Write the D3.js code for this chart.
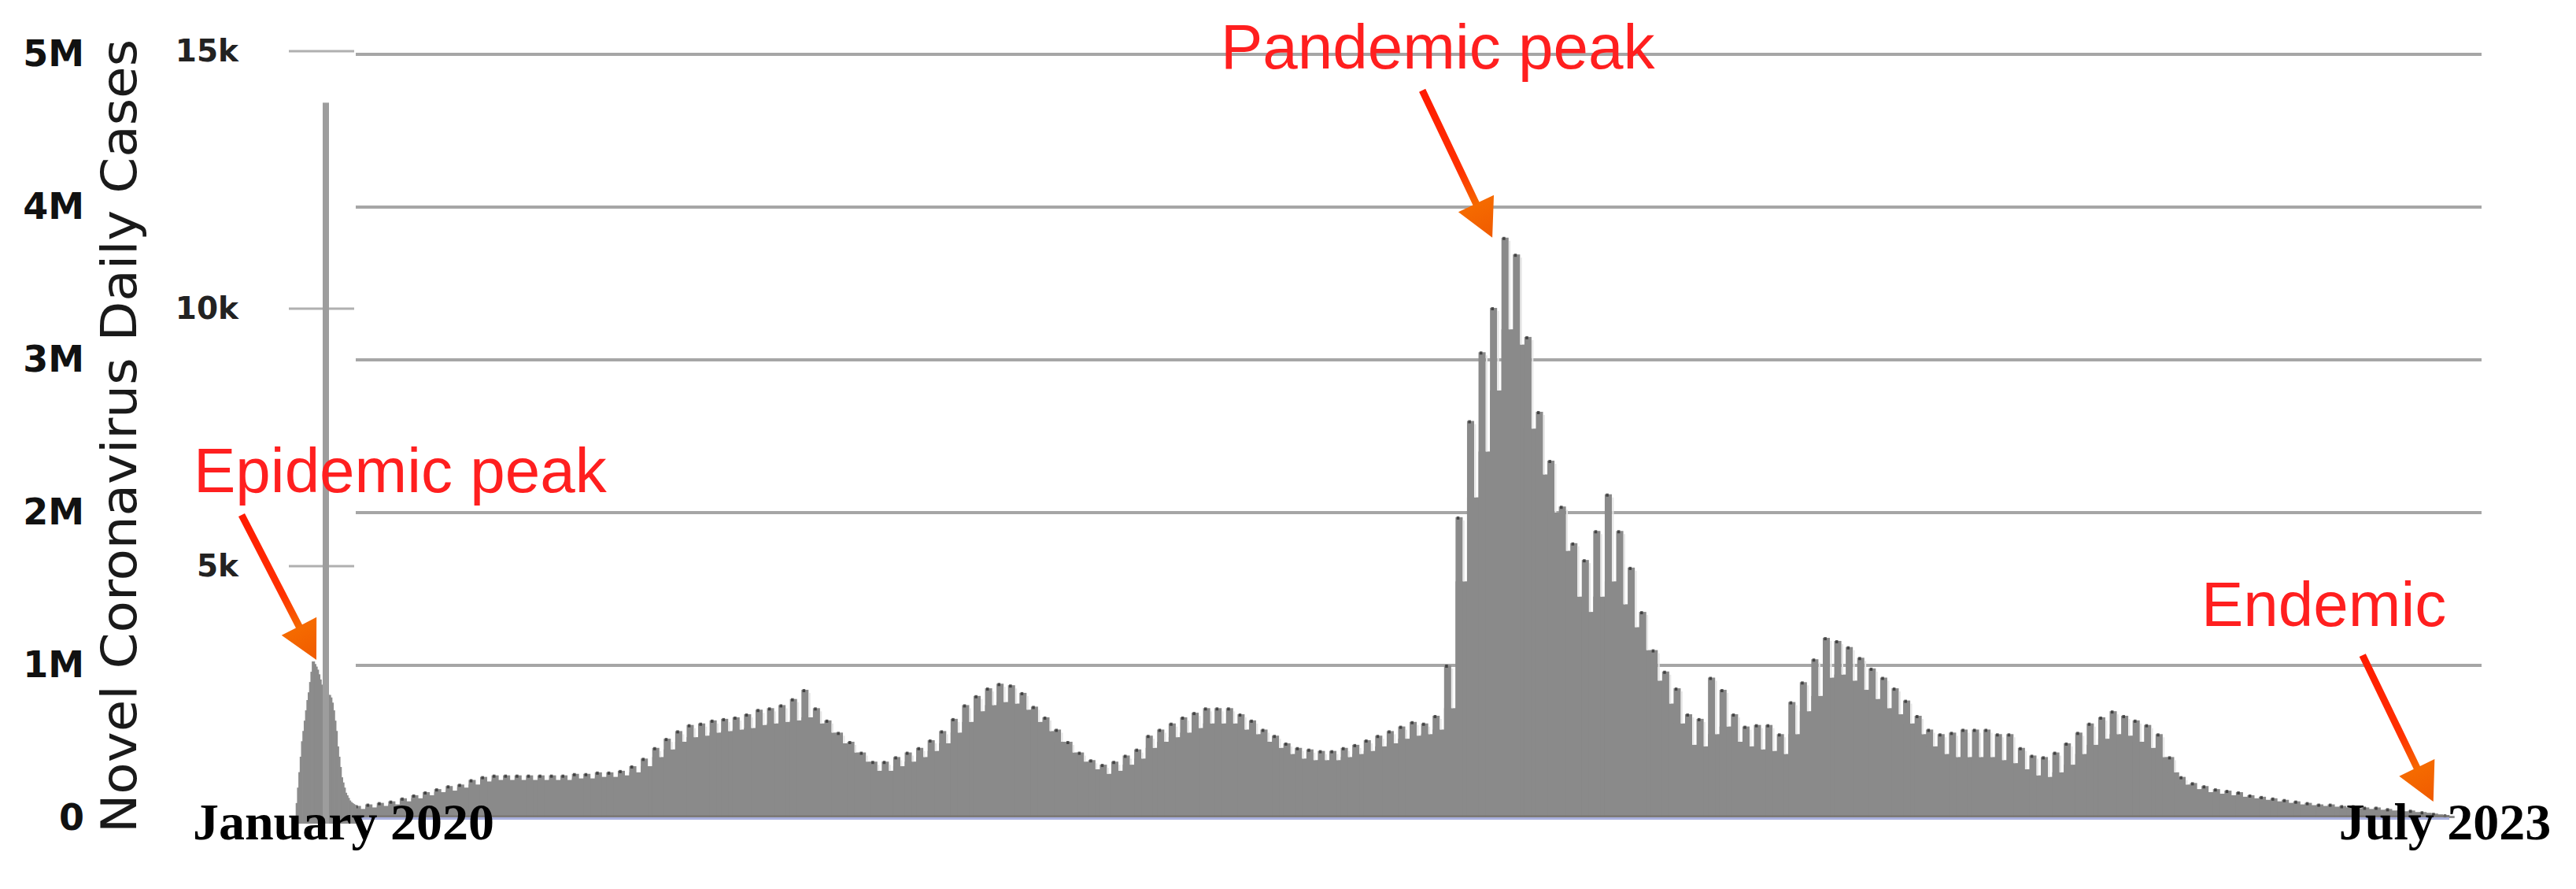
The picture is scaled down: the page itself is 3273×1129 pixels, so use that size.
<!DOCTYPE html>
<html><head><meta charset="utf-8">
<script src="https://cdn.jsdelivr.net/npm/d3@7"></script>
<style>body{margin:0;background:#fff}svg{display:block}</style>
</head><body>
<script>
// ---------------- DATA ----------------
// Global daily cases (millions): weekly high (peak day) and weekly low (trough day), weeks from 2020-01-01
const globalWeekStart = "2020-01-01";
const weeklyHigh = [
0.08,0.09,0.10,0.11,0.13,0.15,0.17,0.19,0.21,0.22,
0.25,0.27,0.28,0.28,0.28,0.28,0.28,0.28,0.28,0.29,
0.29,0.30,0.30,0.31,0.34,0.39,0.46,0.52,0.57,0.61,
0.62,0.64,0.65,0.66,0.68,0.71,0.72,0.74,0.78,0.84,
0.72,0.64,0.56,0.50,0.43,0.37,0.37,0.40,0.43,0.46,
0.51,0.57,0.65,0.74,0.80,0.85,0.88,0.87,0.82,0.73,
0.66,0.58,0.50,0.43,0.38,0.35,0.37,0.41,0.45,0.54,
0.58,0.62,0.66,0.69,0.72,0.72,0.72,0.68,0.64,0.58,
0.54,0.49,0.46,0.45,0.44,0.44,0.46,0.48,0.51,0.54,
0.57,0.60,0.63,0.62,0.67,1.00,1.97,2.60,3.05,3.34,
3.80,3.69,3.15,2.66,2.34,2.04,1.80,1.69,1.88,2.12,
1.88,1.64,1.35,1.10,0.96,0.85,0.68,0.65,0.92,0.84,
0.68,0.60,0.61,0.61,0.55,0.76,0.89,1.04,1.18,1.16,
1.12,1.05,0.98,0.92,0.85,0.77,0.67,0.58,0.55,0.56,
0.58,0.58,0.58,0.55,0.55,0.46,0.41,0.40,0.43,0.49,
0.56,0.62,0.66,0.70,0.67,0.64,0.61,0.55,0.40,0.27,
0.23,0.21,0.19,0.18,0.17,0.15,0.14,0.13,0.12,0.11,
0.10,0.09,0.09,0.08,0.08,0.07,0.07,0.06,0.05,0.05,
0.04,0.03,0.02];
const weeklyLow = [
0.06,0.07,0.08,0.09,0.11,0.13,0.15,0.17,0.18,0.20,
0.22,0.24,0.25,0.25,0.25,0.25,0.25,0.25,0.25,0.26,
0.26,0.27,0.27,0.28,0.30,0.34,0.40,0.45,0.50,0.53,
0.54,0.56,0.57,0.58,0.59,0.61,0.62,0.63,0.64,0.66,
0.62,0.56,0.49,0.43,0.37,0.31,0.31,0.34,0.37,0.40,
0.44,0.49,0.56,0.63,0.70,0.74,0.76,0.75,0.71,0.63,
0.57,0.50,0.43,0.37,0.32,0.29,0.31,0.35,0.39,0.46,
0.50,0.53,0.56,0.59,0.62,0.62,0.62,0.58,0.55,0.50,
0.46,0.42,0.39,0.38,0.38,0.38,0.40,0.42,0.44,0.47,
0.49,0.52,0.54,0.55,0.58,0.72,1.55,2.10,2.40,2.80,
3.20,3.10,2.55,2.25,2.00,1.75,1.45,1.35,1.45,1.55,
1.40,1.25,1.10,0.90,0.75,0.62,0.48,0.47,0.55,0.60,
0.50,0.47,0.45,0.44,0.42,0.55,0.70,0.80,0.92,0.94,
0.90,0.84,0.78,0.72,0.68,0.62,0.55,0.47,0.42,0.40,
0.40,0.40,0.40,0.38,0.36,0.32,0.28,0.27,0.30,0.35,
0.42,0.48,0.52,0.55,0.54,0.50,0.46,0.40,0.30,0.22,
0.19,0.17,0.16,0.15,0.14,0.13,0.12,0.11,0.10,0.09,
0.085,0.08,0.075,0.07,0.065,0.06,0.055,0.05,0.045,0.04,
0.035,0.025,0.015];
// Early epidemic (inset, China) daily cases from 2020-01-20
const chinaStart = "2020-01-20";
const chinaDaily = [100,400,700,1000,1300,1600,1800,2000,2200,2400,
2550,2750,2950,3150,3150,3100,3050,2990,2900,2800,
2700,2650,2600,14000,2550,2500,2500,2450,2350,2200,
2000,1800,1500,1300,1100,900,800,700,600,550,
500,450,420,400,380,350];
// axes
const outerTicks = [0,1,2,3,4,5];
const outerTickLabels = ["0","1M","2M","3M","4M","5M"];
const innerTicks = [5000,10000,15000];
const innerTickLabels = ["5k","10k","15k"];
const xTickDates = ["2020-01-01","2023-07-01"];
const xTickLabels = ["January 2020","July 2023"];
const yTitle = "Novel Coronavirus Daily Cases";
const annotationTexts = ["Epidemic peak","Pandemic peak","Endemic"];

// ---------------- CHART ----------------
const W = 3273, H = 1129;
const parse = d3.utcParse("%Y-%m-%d");
const svg = d3.select("body").append("svg").attr("width", W).attr("height", H);

const x = d3.scaleUtc().domain([parse("2020-01-01"), parse("2023-07-01")]).range([450, 3110]);
const yOuter = d3.scaleLinear().domain([0, 5]).range([1039, 69]);
const yInner = d3.scaleLinear().domain([0, 15000]).range([1046, 65]);
const c0 = parse(chinaStart);
const xChina = d3.scaleUtc().domain([c0, d3.utcDay.offset(c0, 47)]).range([374, 454]);

// gridlines
svg.append("g").selectAll("line").data(outerTicks.filter(d => d > 0)).join("line")
  .attr("x1", 452).attr("x2", 3153)
  .attr("y1", d => yOuter(d)).attr("y2", d => yOuter(d))
  .attr("stroke", "#a6a6a6").attr("stroke-width", 4);
svg.append("g").selectAll("line").data(innerTicks).join("line")
  .attr("x1", 367).attr("x2", 450)
  .attr("y1", d => yInner(d)).attr("y2", d => yInner(d))
  .attr("stroke", "#b0b0b0").attr("stroke-width", 3);

// global weekly bars
const gs = parse(globalWeekStart);
const weeks = weeklyHigh.map((h, i) => ({ d: d3.utcDay.offset(gs, 7 * i), hi: h, lo: weeklyLow[i] }));
const gArea = svg.append("g");
const base0 = yOuter(0);
gArea.selectAll("rect.lo").data(weeks).join("rect").attr("class", "lo")
  .attr("x", w => x(w.d) - 0.4)
  .attr("width", w => x(d3.utcDay.offset(w.d, 7)) - x(w.d) + 0.8)
  .attr("y", w => yOuter(w.lo)).attr("height", w => base0 - yOuter(w.lo))
  .attr("fill", "#8a8a8a");
gArea.selectAll("rect.hi").data(weeks).join("rect").attr("class", "hi")
  .attr("x", w => x(w.d) - 0.4)
  .attr("width", w => (x(d3.utcDay.offset(w.d, 7)) - x(w.d)) * 0.62)
  .attr("y", w => yOuter(w.hi)).attr("height", w => base0 - yOuter(w.hi))
  .attr("fill", "#8a8a8a");
gArea.selectAll("rect.cap").data(weeks).join("rect").attr("class", "cap")
  .attr("x", w => x(w.d) + 1)
  .attr("width", 3.5)
  .attr("y", w => yOuter(w.hi) - 1).attr("height", 4)
  .attr("fill", "#2a2a2a").attr("opacity", 0.75);
// notch highlight
gArea.selectAll("rect.notch").data(weeks.filter(w => w.hi - w.lo > 0.05)).join("rect").attr("class", "notch")
  .attr("x", w => x(w.d) + (x(d3.utcDay.offset(w.d, 7)) - x(w.d)) * 0.62)
  .attr("width", 2)
  .attr("y", w => yOuter(w.hi) + 4).attr("height", w => Math.max(0, yOuter(w.lo) - yOuter(w.hi) - 4))
  .attr("fill", "#e6e6e6");

// baseline
svg.append("line").attr("x1", 450).attr("x2", 3112).attr("y1", 1036.5).attr("y2", 1036.5)
  .attr("stroke", "#787470").attr("stroke-width", 2);
svg.append("line").attr("x1", 450).attr("x2", 3112).attr("y1", 1039.5).attr("y2", 1039.5)
  .attr("stroke", "#a9b0de").attr("stroke-width", 3);

// inset (China) daily bars
const days = chinaDaily.map((v, i) => ({ d: d3.utcDay.offset(c0, i), v }));
const maxV = d3.max(chinaDaily);
const step = xChina(d3.utcDay.offset(c0, 1)) - xChina(c0);
svg.append("g").selectAll("rect").data(days.filter(e => e.v !== maxV)).join("rect")
  .attr("x", e => xChina(e.d)).attr("width", step + 0.7)
  .attr("y", e => yInner(e.v)).attr("height", e => yInner(0) - yInner(e.v))
  .attr("fill", "#8b8b8b");
svg.append("g").selectAll("rect").data(days.filter(e => e.v === maxV)).join("rect")
  .attr("x", e => xChina(e.d) + step / 2 - 4).attr("width", 8)
  .attr("y", e => yInner(e.v)).attr("height", e => yInner(0) - yInner(e.v))
  .attr("fill", "#9d9d9d");

// axes
const axOuter = svg.append("g").attr("transform", "translate(107,0)")
  .call(d3.axisLeft(yOuter).tickValues(outerTicks).tickFormat((d, i) => outerTickLabels[i]).tickSize(0).tickPadding(0));
axOuter.select(".domain").remove();
axOuter.selectAll("text").attr("font-family", "DejaVu Sans").attr("font-weight", "bold")
  .attr("font-size", 46).attr("fill", "#111");

const axInner = svg.append("g").attr("transform", "translate(303,0)")
  .call(d3.axisLeft(yInner).tickValues(innerTicks).tickFormat((d, i) => innerTickLabels[i]).tickSize(0).tickPadding(0));
axInner.select(".domain").remove();
axInner.selectAll("text").attr("font-family", "DejaVu Sans").attr("font-weight", "bold")
  .attr("font-size", 39).attr("fill", "#222");

svg.append("text").attr("transform", "translate(173,554) rotate(-90)")
  .attr("text-anchor", "middle").attr("font-family", "'DejaVu Sans Condensed','Liberation Sans Narrow',sans-serif")
  .attr("font-size", 62).attr("fill", "#1a1a1a")
  .attr("textLength", 1008).attr("lengthAdjust", "spacingAndGlyphs").text(yTitle);

const axX = svg.append("g").attr("transform", "translate(0,1066)")
  .call(d3.axisBottom(x).tickValues(xTickDates.map(parse)).tickFormat((d, i) => xTickLabels[i]).tickSize(0));
axX.select(".domain").remove();
axX.selectAll("text").attr("y", 0).attr("dy", null)
  .attr("dx", (d, i) => i === 0 ? -14 : -4)
  .attr("font-family", "'Liberation Serif','Times New Roman',serif").attr("font-weight", "bold")
  .attr("font-size", 66).attr("fill", "#000");

// annotations
const defs = svg.append("defs");
function arrow(id, tail, tip) {
  const dx = tip[0] - tail[0], dy = tip[1] - tail[1];
  const len = Math.hypot(dx, dy), ux = dx / len, uy = dy / len, px = -uy, py = ux;
  const headL = 48, headW = 25, shaftW = 4.5;
  const bx = tip[0] - ux * headL, by = tip[1] - uy * headL;
  const g = defs.append("linearGradient").attr("id", id).attr("gradientUnits", "userSpaceOnUse")
    .attr("x1", tail[0]).attr("y1", tail[1]).attr("x2", tip[0]).attr("y2", tip[1]);
  g.append("stop").attr("offset", 0).attr("stop-color", "#ff1a00");
  g.append("stop").attr("offset", 0.55).attr("stop-color", "#ff3200");
  g.append("stop").attr("offset", 0.78).attr("stop-color", "#f56a00");
  g.append("stop").attr("offset", 1).attr("stop-color", "#f05a00");
  const pts = [
    [tail[0] + px * shaftW, tail[1] + py * shaftW],
    [bx + px * shaftW, by + py * shaftW],
    [bx + px * headW, by + py * headW],
    tip,
    [bx - px * headW, by - py * headW],
    [bx - px * shaftW, by - py * shaftW],
    [tail[0] - px * shaftW, tail[1] - py * shaftW]];
  svg.append("path").attr("d", "M" + pts.map(p => p.join(",")).join("L") + "Z").attr("fill", `url(#${id})`);
}
// anchors from data
const humpIdx = d3.maxIndex(chinaDaily.map(v => v === maxV ? 0 : v));
const epiTip = [xChina(days[humpIdx].d) + step / 2 + 5, yInner(chinaDaily[humpIdx]) - 2];
const pkIdx = d3.maxIndex(weeklyHigh);
const panTip = [x(weeks[pkIdx].d) - 12, yOuter(weeklyHigh[pkIdx])];
const last = weeks[weeks.length - 1];
const endTip = [x(last.d) - 12, yOuter(last.hi) - 17];

const annoStyle = s => s.attr("font-family", "'Liberation Sans',Arial,sans-serif").attr("font-size", 80).attr("fill", "#ff1f1f");
annoStyle(svg.append("text").attr("x", 246).attr("y", 625).text(annotationTexts[0]));
annoStyle(svg.append("text").attr("x", 1551).attr("y", 87).text(annotationTexts[1]));
annoStyle(svg.append("text").attr("x", 2797).attr("y", 795).text(annotationTexts[2]));

arrow("ga1", [epiTip[0] - 95, epiTip[1] - 184], epiTip);
arrow("ga2", [panTip[0] - 89, panTip[1] - 187], panTip);
arrow("ga3", [endTip[0] - 90, endTip[1] - 186], endTip);
</script>
</body></html>
